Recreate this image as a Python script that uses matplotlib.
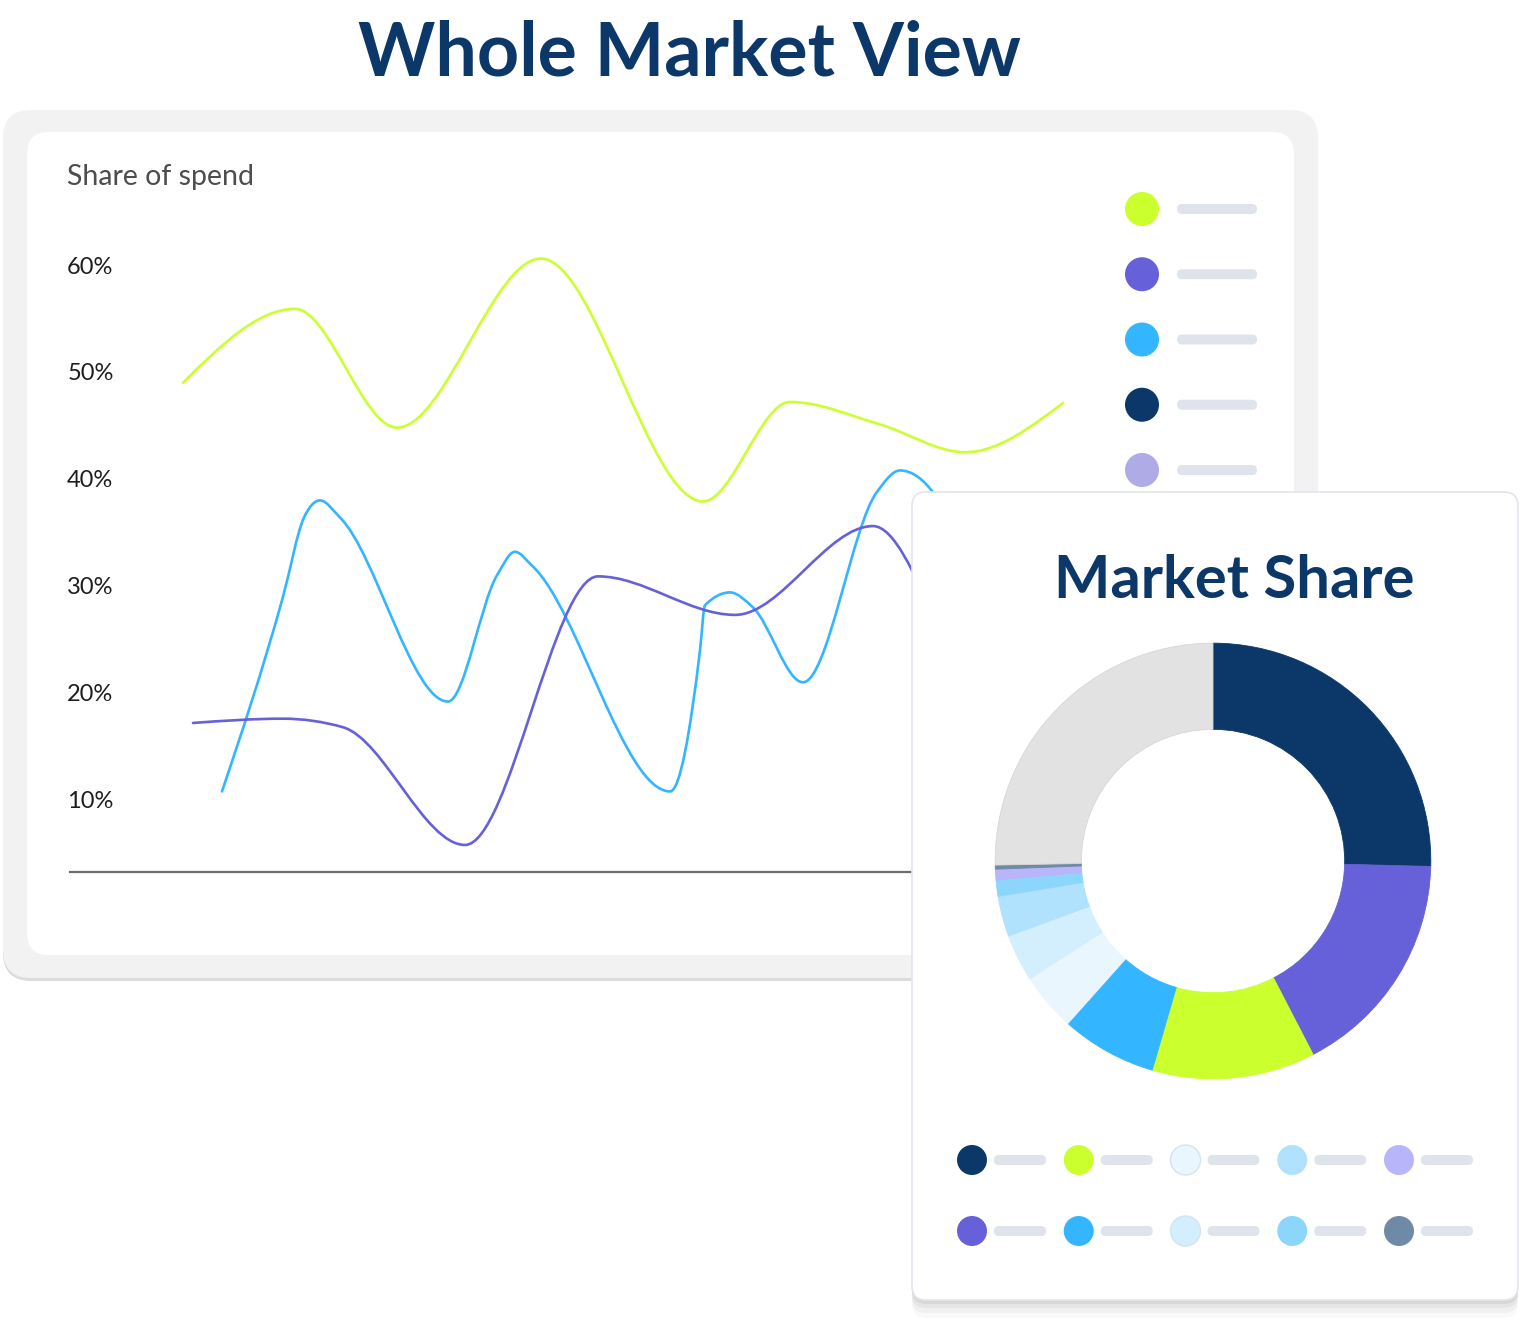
import numpy as np
import matplotlib.pyplot as plt
from matplotlib.patches import FancyBboxPatch, Circle, PathPatch
from matplotlib.path import Path

plt.rcParams['font.family'] = ['Lato', 'DejaVu Sans']

# ---- data ----
# share of spend lines: x = period position (0-102), y = share in %
lime_x = [11.3, 22.5, 32.7, 47.1, 63.3, 72.0, 81.0, 89.5, 99.3]
lime_y = [49.0, 55.9, 44.8, 60.6, 37.9, 47.2, 45.1, 42.5, 47.1]

blue_x = [15.2, 21.3, 23.4, 25.0, 27.0, 37.8, 42.7, 44.5, 46.2, 60.0, 63.0, 63.5, 66.0, 68.3, 73.3,
          80.7, 83.0, 86.5, 89.0]
blue_y = [10.8, 29.0, 36.4, 38.0, 36.4, 19.2, 31.0, 33.2, 31.9, 10.8, 24.0, 28.2, 29.4, 28.0, 21.0,
          38.8, 40.8, 38.5, 32.4]

purple_x = [12.3, 21.3, 27.3, 39.5, 52.8, 66.5, 80.3, 86.5]
purple_y = [17.2, 17.6, 16.8, 5.8, 30.9, 27.3, 35.6, 26.8]

y_ticks = [10, 20, 30, 40, 50, 60]
y_labels = [f"{v}%" for v in y_ticks]

# market share donut (clockwise from top)
share_values = [25.4, 17.0, 12.1, 7.1, 4.3, 3.5, 3.0, 1.2, 0.8, 0.3, 25.3]
share_colors = ['#0B3868', '#6660D9', '#CBFF2E', '#33B5FF', '#EAF6FD', '#D3EEFD',
                '#B0E1FD', '#8DD6FB', '#B8B5FA', '#6E8AA6', '#E2E2E2']

line_legend_colors = ['#CBFF2E', '#6660D9', '#33B5FF', '#0B3868', '#AEABE6']

NAVY = '#0B3868'
BAR = '#DFE4EC'

W, H = 1536, 1340
fig = plt.figure(figsize=(W / 100, H / 100), dpi=100)
fig.patch.set_facecolor('white')


def px_axes(z):
    a = fig.add_axes([0, 0, 1, 1], zorder=z)
    a.set_xlim(0, W)
    a.set_ylim(H, 0)
    a.axis('off')
    return a


def card(a, x0, y0, x1, y1, r, fc, ec='none', lw=0, **kw):
    a.add_patch(FancyBboxPatch((x0, y0), x1 - x0, y1 - y0,
                               boxstyle=f"round,pad=0,rounding_size={r}",
                               fc=fc, ec=ec, lw=lw, **kw))


def monotone_path(x, y):
    # monotone cubic (like d3 curveMonotoneX) as bezier segments
    x = np.asarray(x, float)
    y = np.asarray(y, float)
    n = len(x)
    h = np.diff(x)
    s = np.diff(y) / h
    t = np.zeros(n)
    for i in range(1, n - 1):
        p = (s[i - 1] * h[i] + s[i] * h[i - 1]) / (h[i - 1] + h[i])
        t[i] = (np.sign(s[i - 1]) + np.sign(s[i])) * min(abs(s[i - 1]), abs(s[i]), 0.5 * abs(p))
    t[0] = (3 * s[0] - t[1]) / 2
    t[-1] = (3 * s[-1] - t[-2]) / 2
    verts = [(x[0], y[0])]
    codes = [Path.MOVETO]
    for i in range(n - 1):
        d = h[i] / 3
        verts += [(x[i] + d, y[i] + t[i] * d), (x[i + 1] - d, y[i + 1] - t[i + 1] * d), (x[i + 1], y[i + 1])]
        codes += [Path.CURVE4] * 3
    return Path(verts, codes)


# ---- back card ----
ax_bg = px_axes(0)
card(ax_bg, 3, 113, 1318, 981, 28, '#DCDCDC')
card(ax_bg, 3, 110, 1318, 978, 28, '#F2F2F2')
card(ax_bg, 27, 132, 1294, 955, 22, 'white')
ax_bg.text(67, 185, 'Share of spend', fontsize=20.5, color='#4D4D4D', va='baseline')

for i, c in enumerate(line_legend_colors):
    cy = 209 + i * 65.25
    ax_bg.add_patch(Circle((1142, cy), 17, fc=c, ec='none'))
    card(ax_bg, 1177, cy - 5, 1257, cy + 5, 5, BAR)

# ---- line chart ----
ax = fig.add_axes([70 / W, 1 - 872 / H, 1020 / W, 642 / H], zorder=1)
ax.patch.set_alpha(0)
ax.set_xlim(0, 102)
ax.set_ylim(60 - (872 - 265) / 10.7, 60 + (265 - 230) / 10.7)
for xs, ys, c in [(lime_x, lime_y, '#CBFF2E'), (blue_x, blue_y, '#33B5FF'), (purple_x, purple_y, '#6660D9')]:
    ax.add_patch(PathPatch(monotone_path(xs, ys), fc='none', ec=c, lw=1.9, capstyle='round'))
for sp in ['top', 'right', 'left']:
    ax.spines[sp].set_visible(False)
ax.spines['bottom'].set_color('#6B6B6B')
ax.spines['bottom'].set_linewidth(1.6)
ax.set_xticks([])
ax.set_yticks(y_ticks, y_labels)
ax.tick_params(axis='y', length=0, pad=2, labelsize=17, labelcolor='#1E1E1E')
for lab in ax.get_yticklabels():
    lab.set_ha('left')

# ---- front card ----
ax_fr = px_axes(2)
for off, a in [(18, 0.025), (13, 0.035), (8, 0.045), (4, 0.06)]:
    card(ax_fr, 912, 492 + off, 1518, 1300 + off, 14, 'black', alpha=a)
card(ax_fr, 912, 492, 1518, 1300, 14, 'white', ec='#E2E5EC', lw=1.2)
ax_fr.text(1234, 598, 'Market Share', fontsize=43, fontweight='bold', color=NAVY,
           ha='center', va='baseline')

for k, c in enumerate(share_colors[:10]):
    cx = 972 + (k // 2) * 106.75
    cy = 1160 + (k % 2) * 71
    ec = '#D3E4F0' if c in ('#EAF6FD', '#D3EEFD') else 'none'
    ax_fr.add_patch(Circle((cx, cy), 15, fc=c, ec=ec, lw=1))
    card(ax_fr, cx + 22, cy - 5, cx + 74, cy + 5, 5, BAR)

# ---- donut ----
ax_pie = fig.add_axes([(1213 - 220) / W, 1 - (861 + 220) / H, 440 / W, 440 / H], zorder=4)
wedges, _ = ax_pie.pie(share_values, colors=share_colors, startangle=90, counterclock=False,
                       radius=1, wedgeprops=dict(width=87 / 220, linewidth=0.6))
for w in wedges:
    w.set_edgecolor(w.get_facecolor())
wedges[-1].set_edgecolor('#D6D6D6')
ax_pie.set_xlim(-1.01, 1.01)
ax_pie.set_ylim(-1.01, 1.01)
ax_pie.set_aspect('equal')

# ---- title ----
fig.text(690 / W, 1 - 75 / H, 'Whole Market View', fontsize=53, fontweight='bold',
         color=NAVY, ha='center', va='baseline')

fig.savefig('out.png', dpi=100, facecolor='white')
